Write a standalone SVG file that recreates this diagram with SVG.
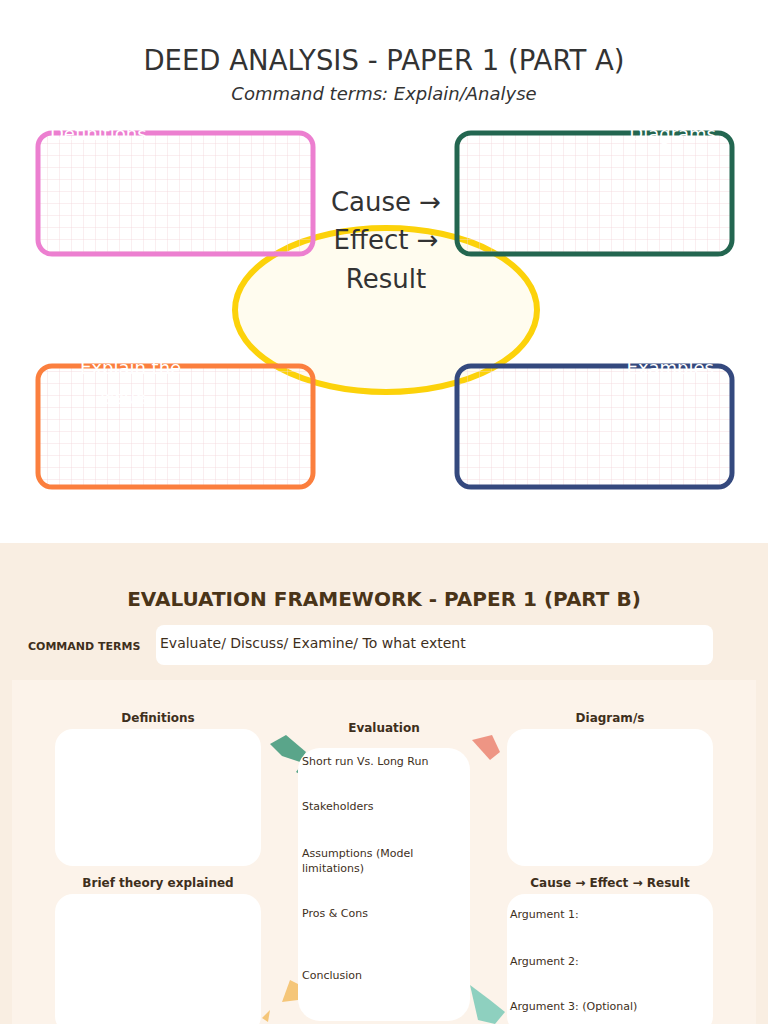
<svg xmlns="http://www.w3.org/2000/svg" width="768" height="1024" viewBox="0 0 768 1024">
<defs>
<pattern id="grid" width="12" height="12" patternUnits="userSpaceOnUse"><path d="M12 0V12M0 12H12" stroke="#f3d4d8" stroke-width="0.8" fill="none"/></pattern>
<style>
.t{font-family:"DejaVu Sans",sans-serif}
.box{fill:url(#grid);stroke-width:5}
.wl{fill:#fff;font-size:18px}
.hd{font-weight:bold;font-size:12px;fill:#3e2f1c;text-anchor:middle}
.it{font-size:11px;fill:#3e2f1c}
.wb{fill:#fff}
</style>
</defs>
<rect width="768" height="1024" fill="#fff"/>
<text class="t" x="384" y="70" text-anchor="middle" font-size="27.5" fill="#333">DEED ANALYSIS - PAPER 1 (PART A)</text>
<text class="t" x="384" y="100" text-anchor="middle" font-size="18" font-style="italic" fill="#333">Command terms: Explain/Analyse</text>
<g id="center"><ellipse cx="386" cy="310" rx="151" ry="82" fill="#fffcef" stroke="#fcd20a" stroke-width="6"/>
<text class="t" font-size="26" fill="#333" text-anchor="middle"><tspan x="386" y="211">Cause  →</tspan><tspan x="386" y="249">Effect →</tspan><tspan x="386" y="288">Result</tspan></text></g>
<g id="definitions"><rect class="box" x="38" y="133" width="275" height="121" rx="14" stroke="#ec7fd0"/><text class="t wl" x="50" y="140">Definitions</text></g>
<g id="diagrams"><rect class="box" x="457" y="133" width="275" height="121" rx="14" stroke="#236650"/><text class="t wl" x="716" y="140" text-anchor="end">Diagrams</text></g>
<g id="explain"><rect class="box" x="38" y="366" width="275" height="121" rx="14" stroke="#fb7f3e"/><text class="t wl" x="80" y="374">Explain the</text><text class="t wl" x="100" y="404">issue</text></g>
<g id="examples"><rect class="box" x="457" y="366" width="275" height="121" rx="14" stroke="#34497e"/><text class="t wl" x="714" y="374" text-anchor="end">Examples</text></g>
<rect x="0" y="543" width="768" height="481" fill="#f9eee2"/>
<text class="t" x="384" y="606" text-anchor="middle" font-size="20" font-weight="bold" fill="#4a3418">EVALUATION FRAMEWORK - PAPER 1 (PART B)</text>
<text class="t" x="28" y="650" font-size="11" font-weight="bold" fill="#3e2f1c">COMMAND TERMS</text>
<rect x="156" y="625" width="557" height="40" rx="8" class="wb"/>
<text class="t" x="160" y="648" font-size="14" fill="#3e2f1c">Evaluate/ Discuss/ Examine/ To what extent</text>
<rect x="12" y="680" width="744" height="344" fill="#fcf3ea"/>
<g id="connectors">
<path d="M270 744 L286 735 L306 752 L300 762 L282 756 Z" fill="#5aa58a"/>
<path d="M296 772 L302 764 L306 778 Z" fill="#5aa58a"/>
<path d="M472 740 L492 735 L500 752 L490 760 Z" fill="#ee9584"/>
<path d="M290 980 L300 985 L298 1000 L282 1002 Z" fill="#f5c679"/>
<path d="M262 1018 L270 1010 L268 1022 Z" fill="#f5c679"/>
<path d="M470 985 L490 1000 L505 1012 L495 1024 L478 1020 Z" fill="#8ed0bf"/>
</g>
<g id="n-definitions"><text class="t hd" x="158" y="722">Definitions</text><rect x="55" y="729" width="206" height="137" rx="18" class="wb"/></g>
<g id="n-diagram"><text class="t hd" x="610" y="722">Diagram/s</text><rect x="507" y="729" width="206" height="137" rx="18" class="wb"/></g>
<g id="n-theory"><text class="t hd" x="158" y="887">Brief theory explained</text><rect x="55" y="894" width="206" height="140" rx="18" class="wb"/></g>
<g id="n-cer"><text class="t hd" x="610" y="887">Cause → Effect → Result</text><rect x="507" y="894" width="206" height="140" rx="18" class="wb"/>
<text class="t it" x="510" y="918">Argument 1:</text><text class="t it" x="510" y="965">Argument 2:</text><text class="t it" x="510" y="1010">Argument 3: (Optional)</text></g>
<g id="n-evaluation"><text class="t hd" x="384" y="732">Evaluation</text><rect x="298" y="748" width="172" height="273" rx="22" class="wb"/>
<text class="t it" x="302" y="765">Short run Vs. Long Run</text>
<text class="t it" x="302" y="810">Stakeholders</text>
<text class="t it" x="302" y="857">Assumptions (Model</text><text class="t it" x="302" y="872">limitations)</text>
<text class="t it" x="302" y="917">Pros &amp; Cons</text>
<text class="t it" x="302" y="979">Conclusion</text></g>
</svg>
